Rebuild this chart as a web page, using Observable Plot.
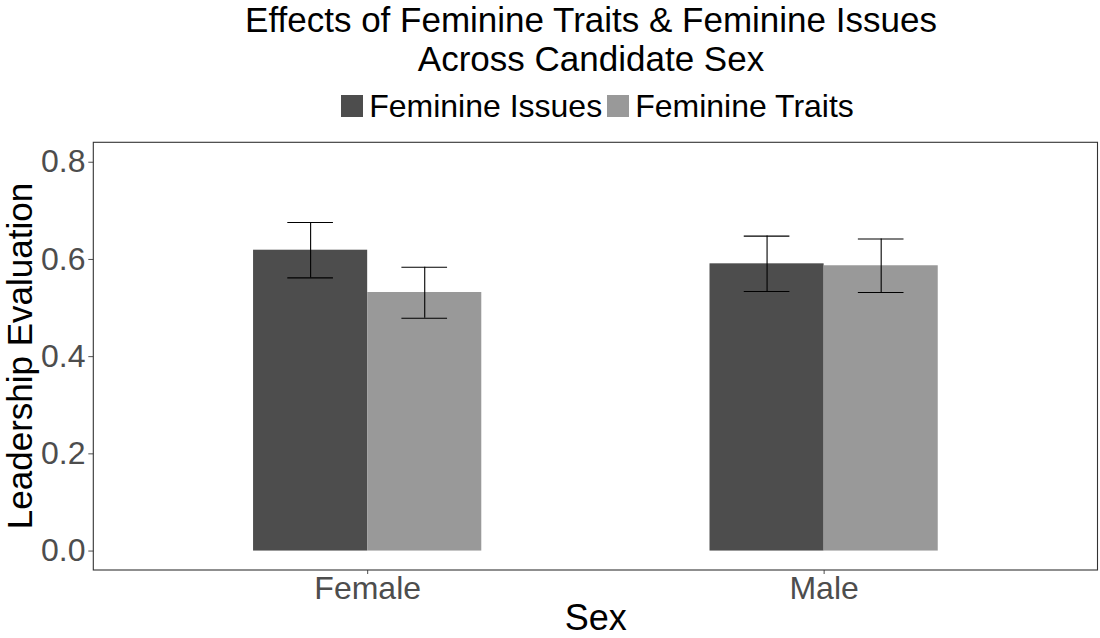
<!DOCTYPE html>
<html>
<head>
<meta charset="utf-8">
<script src="https://cdn.jsdelivr.net/npm/d3@7"></script>
<script src="https://cdn.jsdelivr.net/npm/@observablehq/plot@0.6"></script>
<style>
  html, body { margin: 0; padding: 0; background: white; }
  #page { position: relative; width: 1100px; height: 638px; overflow: hidden; font-family: "Liberation Sans", Arial, Helvetica, sans-serif; }
  .tline { position: absolute; left: 0; width: 1182px; text-align: center; font-size: 35px; line-height: 36px; color: #000; white-space: nowrap; }
  #t1 { top: 1.5px; }
  #t2 { top: 40.6px; }
  #legend { position: absolute; left: 0; top: 90.4px; width: 1195px; display: flex; justify-content: center; align-items: center; font-size: 32px; line-height: 32px; color: #000; white-space: nowrap; }
  .sw { width: 22px; height: 22px; margin-right: 6px; flex: none; }
  .lab1 { margin-right: 5px; }
  #ytitle { position: absolute; left: -180.15px; top: 338px; width: 400px; text-align: center; font-size: 35px; line-height: 36px; transform: rotate(-90deg); transform-origin: 50% 50%; color: #000; white-space: nowrap; }
  #xtitle { position: absolute; left: 0; top: 599.5px; width: 1191.6px; text-align: center; font-size: 36px; line-height: 36px; color: #000; }
  #chart { position: absolute; left: 0; top: 130px; }
</style>
</head>
<body>
<div id="page">
  <div class="tline" id="t1">Effects of Feminine Traits &amp; Feminine Issues</div>
  <div class="tline" id="t2">Across Candidate Sex</div>
  <div id="legend"></div>
  <div id="chart"></div>
  <div id="ytitle">Leadership Evaluation</div>
  <div id="xtitle">Sex</div>
</div>
<script>
// ---- data ----
const sexes = ["Female", "Male"];
const types = ["Feminine Issues", "Feminine Traits"];
const issuesMean = [0.619, 0.591];
const issuesLow  = [0.562, 0.534];
const issuesHigh = [0.676, 0.648];
const traitsMean = [0.532, 0.587];
const traitsLow  = [0.479, 0.532];
const traitsHigh = [0.584, 0.642];
const yTicks = [0, 0.2, 0.4, 0.6, 0.8];
const colors = ["#4d4d4d", "#999999"];

// ---- layout ----
const W = 1100, H = 508, ML = 93.3, MR = 2.5, MT = 12.3, MB = 68;
const PAD_IN = 0.5, PAD_OUT = 0.35;
const step = (W - ML - MR) / (sexes.length - PAD_IN + 2 * PAD_OUT);
const bw = step * (1 - PAD_IN);
const half = bw / 2;
const whisker = 0.4 * half;

const issuesRows = sexes.map((s, i) => ({sex: s, type: types[0], value: issuesMean[i], lo: issuesLow[i], hi: issuesHigh[i]}));
const traitsRows = sexes.map((s, i) => ({sex: s, type: types[1], value: traitsMean[i], lo: traitsLow[i], hi: traitsHigh[i]}));

// legend
const legend = document.getElementById("legend");
types.forEach((t, i) => {
  const sw = document.createElement("span");
  sw.className = "sw";
  sw.style.background = colors[i];
  const lab = document.createElement("span");
  lab.textContent = t;
  if (i === 0) lab.className = "lab1";
  legend.appendChild(sw);
  legend.appendChild(lab);
});

const errStyle = {stroke: "black", strokeWidth: 1.1};

const chart = Plot.plot({
  width: W, height: H,
  marginTop: MT, marginBottom: MB, marginLeft: ML, marginRight: MR,
  style: {fontSize: "32px", fontFamily: "'Liberation Sans', Arial, Helvetica, sans-serif", color: "#4d4d4d", background: "white", overflow: "visible"},
  x: {domain: sexes, paddingInner: PAD_IN, paddingOuter: PAD_OUT, round: false, label: null, tickSize: 4, tickPadding: 2},
  y: {domain: [-0.04, 0.84], ticks: yTicks, tickFormat: d3.format(".1f"), tickSize: 5, tickPadding: 3.3, label: null},
  color: {domain: types, range: colors},
  marks: [
    Plot.barY(issuesRows, {x: "sex", y: "value", fill: "type", insetRight: half}),
    Plot.barY(traitsRows, {x: "sex", y: "value", fill: "type", insetLeft: half}),
    Plot.ruleX(issuesRows, {x: "sex", y1: "lo", y2: "hi", dx: -half / 2, ...errStyle}),
    Plot.ruleX(traitsRows, {x: "sex", y1: "lo", y2: "hi", dx: half / 2, ...errStyle}),
    Plot.tickY(issuesRows, {x: "sex", y: "lo", insetLeft: half / 2 - whisker / 2, insetRight: bw - half / 2 - whisker / 2, ...errStyle}),
    Plot.tickY(issuesRows, {x: "sex", y: "hi", insetLeft: half / 2 - whisker / 2, insetRight: bw - half / 2 - whisker / 2, ...errStyle}),
    Plot.tickY(traitsRows, {x: "sex", y: "lo", insetLeft: half + half / 2 - whisker / 2, insetRight: half / 2 - whisker / 2, ...errStyle}),
    Plot.tickY(traitsRows, {x: "sex", y: "hi", insetLeft: half + half / 2 - whisker / 2, insetRight: half / 2 - whisker / 2, ...errStyle})
  ]
});

// panel border (theme_bw style)
d3.select(chart).append("rect")
  .attr("x", ML).attr("y", MT)
  .attr("width", W - ML - MR).attr("height", H - MT - MB)
  .attr("fill", "none").attr("stroke", "#333333").attr("stroke-width", 1.1);

document.getElementById("chart").appendChild(chart);
</script>
</body>
</html>
